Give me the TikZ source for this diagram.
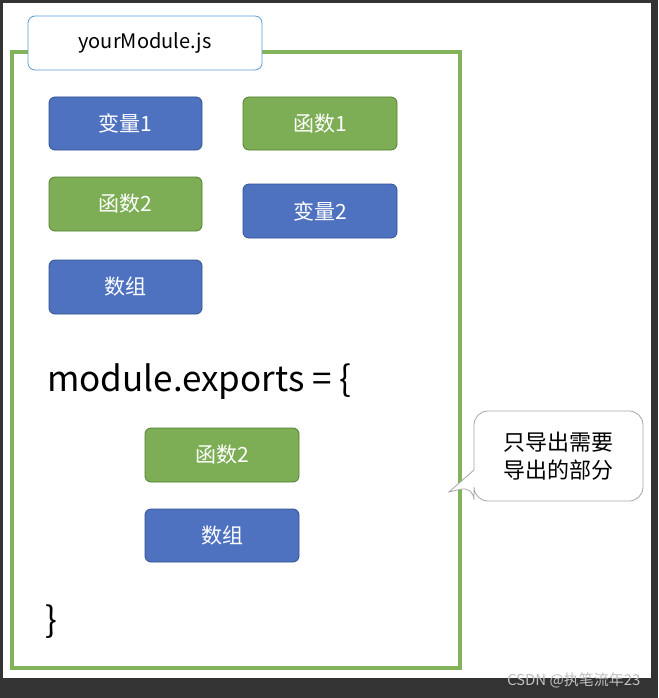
\documentclass[tikz,border=0pt]{standalone}
\usepackage{fontspec}
\setmainfont{Noto Sans CJK SC}
\definecolor{bluef}{HTML}{4F72C0}
\definecolor{blued}{HTML}{2F528F}
\definecolor{greenf}{HTML}{7DAE55}
\definecolor{greend}{HTML}{507E32}
\definecolor{frameg}{HTML}{82B35A}
\definecolor{dark}{HTML}{333333}
\tikzset{
  bx/.style={rounded corners=6pt,draw=#1d,fill=#1f,line width=0.8pt,text=white,font=\fontsize{21}{24}\selectfont},
}
\begin{document}
\begin{tikzpicture}[x=1pt,y=-1pt]
\fill[dark] (0,0) rectangle (658,698);
\fill[white] (3,3) rectangle (651,678);
\useasboundingbox (0,0) rectangle (658,698);
\draw[frameg,line width=4pt] (12,52) rectangle (460,668);
\node[draw={rgb,255:red,91;green,155;blue,213},fill=white,rounded corners=7pt,line width=0.8pt,minimum width=234pt,minimum height=54pt,font=\fontsize{20}{24}\selectfont] (title) at (145,43) {yourModule.js};
\node[bx=blue,minimum width=153pt,minimum height=53pt] (v1) at (125.5,123.5) {变量1};
\node[bx=green,minimum width=154pt,minimum height=53pt] (f1) at (320,123.5) {函数1};
\node[bx=green,minimum width=153pt,minimum height=54pt] (f2) at (125.5,204) {函数2};
\node[bx=blue,minimum width=154pt,minimum height=54pt] (v2) at (320,211) {变量2};
\node[bx=blue,minimum width=153pt,minimum height=54pt] (arr) at (125.5,287) {数组};
\node[anchor=west,inner sep=0,font=\fontsize{35}{40}\selectfont] (exp) at (47,382) {module.exports = \{};
\node[bx=green,minimum width=154pt,minimum height=54pt] (ef2) at (222,455) {函数2};
\node[bx=blue,minimum width=154pt,minimum height=53pt] (earr) at (222,535.5) {数组};
\node[anchor=west,inner sep=0,font=\fontsize{35}{40}\selectfont] (close) at (45,622) {\}};
\draw[gray!70,fill=white,line width=0.8pt,rounded corners=14pt] (474,470) -- (474,411) -- (643,411) -- (643,501) -- (474,501) -- (474,486) [sharp corners] -- (449,492) -- (474,470) -- cycle;
\node[align=center,font=\fontsize{22}{28}\selectfont] (call) at (558,456) {只导出需要\\导出的部分};
\node[anchor=east,text=gray!50,font=\fontsize{15}{18}\selectfont] (wm) at (644,680) {CSDN @执笔流年23};
\end{tikzpicture}
\end{document}
